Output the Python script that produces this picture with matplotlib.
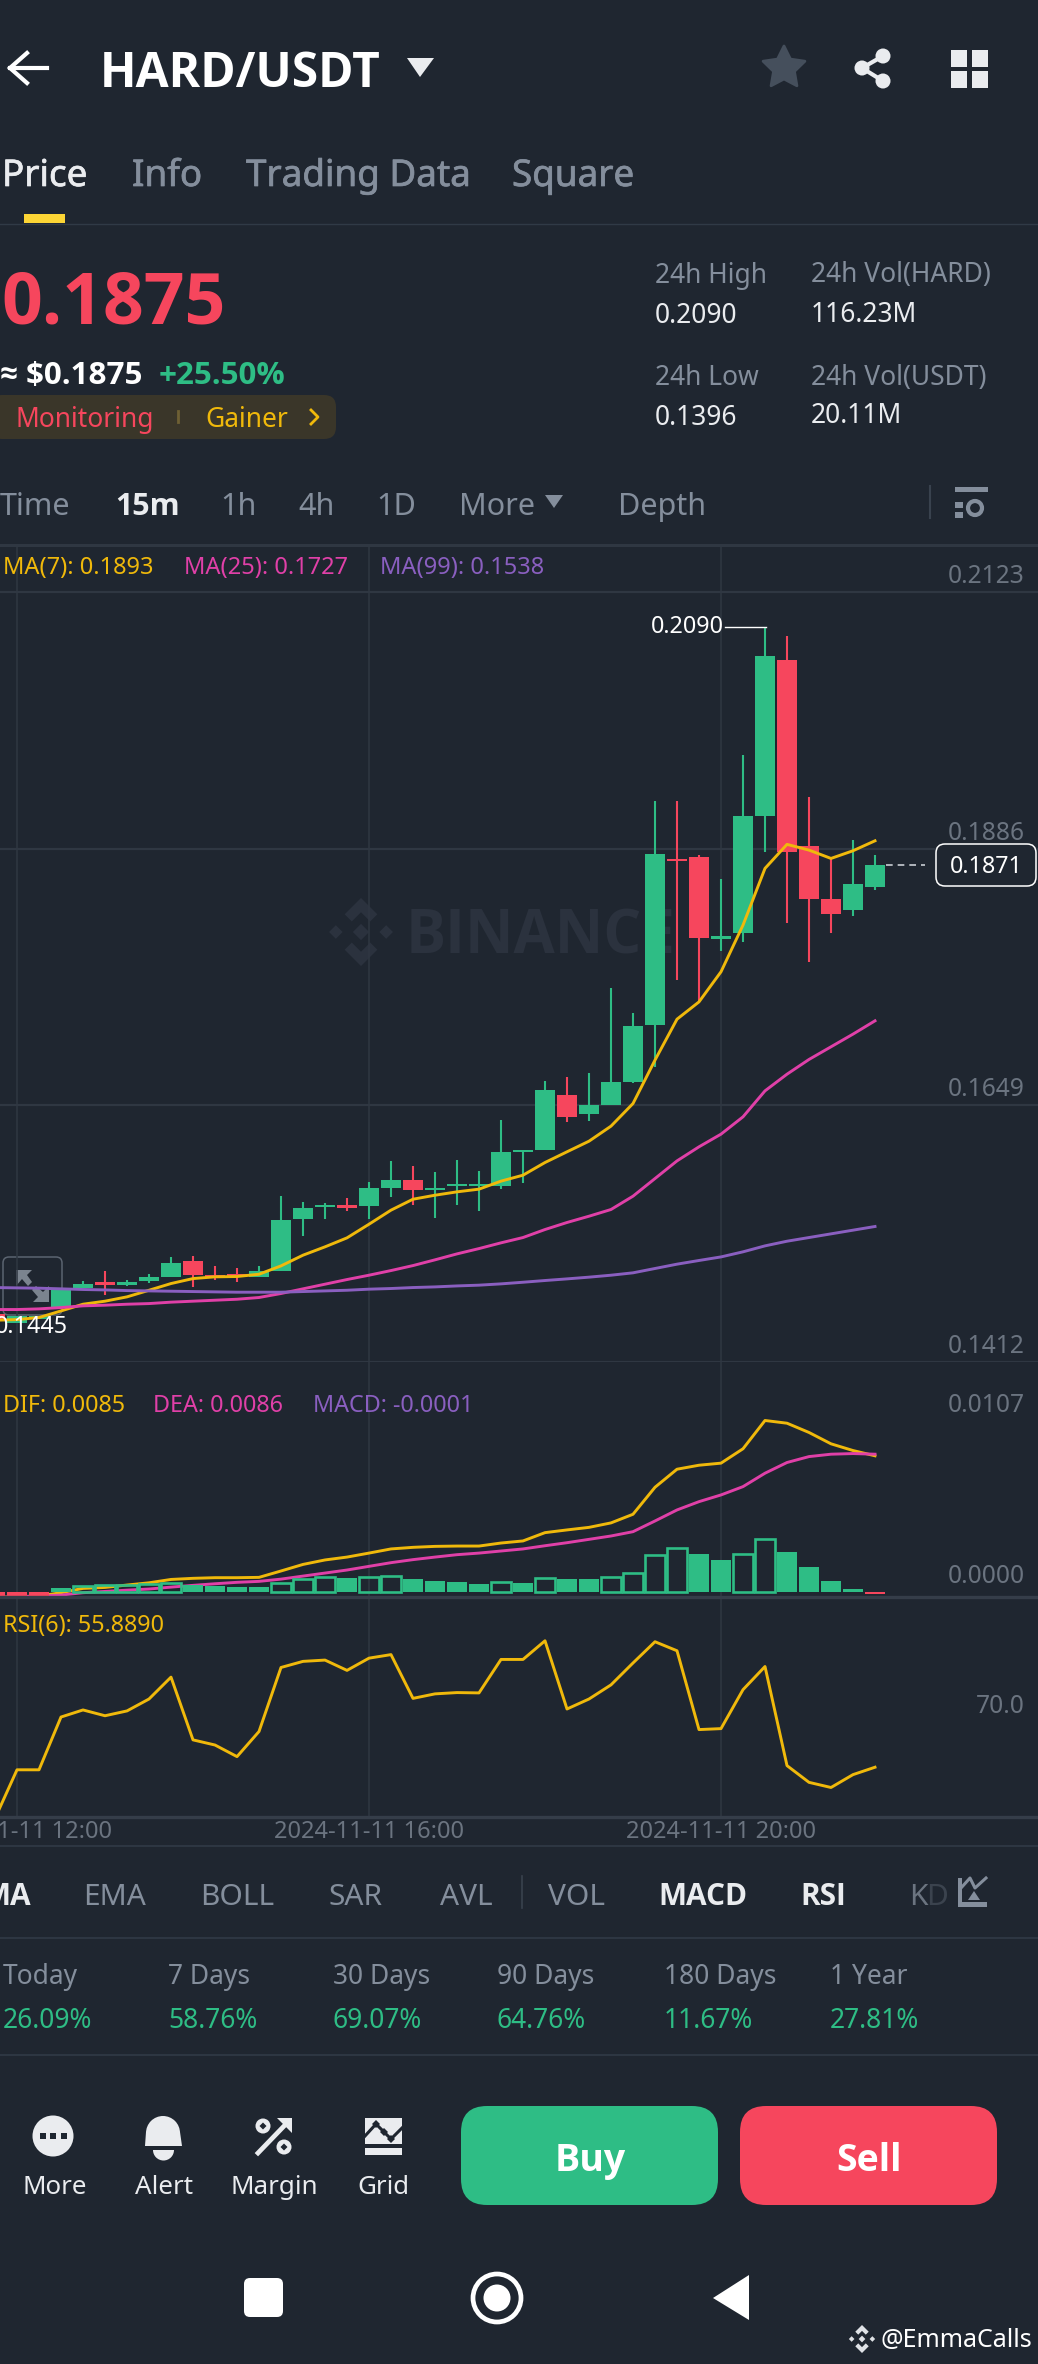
import numpy as np
import matplotlib
matplotlib.use('Agg')
import matplotlib.pyplot as plt
import matplotlib.font_manager as fm
import matplotlib.patheffects as pe
from matplotlib.patches import FancyBboxPatch, Polygon, Circle, Rectangle, Wedge
from matplotlib.transforms import ScaledTranslation

plt.rcParams['font.family'] = ['Noto Sans', 'DejaVu Sans']

W, H = 1038, 2364
BG = '#1f2630'
GREEN = '#2ebd85'
RED = '#f6465d'
YELLOW = '#f0b90b'
PINK = '#e040a8'
PURPLE = '#8a5fc0'
GREY = '#848e9c'
AXIS_GREY = '#6b7480'
WHITE = '#eaecef'
GRID = '#2f3742'

# candles, one every 15 min, index 0 = 12:00
candle_idx = np.arange(-1, 40)
c_open = [.14559, .14476, .14513, .14623, .14805, .14857, .14833, .14864, .14901, .15048, .14922,
          .14928, .14901, .14962, .15434, .15545, .15572, .15554, .15723, .15794, .15704,
          .15744, .15744, .15744, .16056, .16074, .16582, .16407, .16487, .16705, .17226,
          .18766, .18779, .18026, .18082, .19160, .20602, .18880, .18391, .18289, .18507]
c_close = [.14503, .14540, .14540, .14780, .14839, .14833, .14857, .14901, .15030, .14919, .14898,
           .14903, .14959, .15430, .15541, .15566, .15541, .15723, .15794, .15704, .15729,
           .15766, .15766, .16053, .16077, .16626, .16385, .16493, .16702, .17223, .18809,
           .18742, .18030, .18051, .19160, .20641, .18830, .18396, .18258, .18529, .18707]
c_high = [.14565, .14540, .14540, .14780, .14870, .14962, .14879, .14928, .15083, .15095, .15002,
          .14984, .15002, .15652, .15594, .15582, .15631, .15781, .15972, .15926, .15871,
          .15982, .15880, .16351, .16077, .16714, .16746, .16783, .17568, .17343, .19299,
          .19299, .18800, .18578, .19724, .20900, .20823, .19339, .18784, .18938, .18800]
c_low = [.14495, .14476, .14513, .14623, .14805, .14732, .14817, .14848, .14901, .14811, .14873,
         .14857, .14901, .14962, .15282, .15434, .15513, .15434, .15643, .15563, .15443,
         .15566, .15513, .15714, .15772, .16074, .16336, .16345, .16487, .16696, .16844,
         .17645, .17444, .17916, .17999, .18830, .18169, .17814, .18076, .18239, .18476]

ma7 = [.14503, .14509, .14528, .14589, .14651, .14679, .14719, .14780, .14842, .14888, .14904,
       .14907, .14928, .15005, .15104, .15181, .15264, .15390, .15520, .15621, .15658,
       .15689, .15714, .15788, .15843, .15960, .16059, .16157, .16296, .16505, .16906,
       .17284, .17444, .17722, .18153, .18677, .18899, .18846, .18769, .18840, .18932]
ma25 = [.14602, .14602, .14608, .14620, .14636, .14642, .14651, .14657, .14670, .14679, .14688,
        .14697, .14713, .14750, .14793, .14836, .14879, .14919, .14962, .15008, .15061,
        .15116, .15165, .15218, .15267, .15341, .15406, .15464, .15526, .15649, .15812,
        .15975, .16105, .16222, .16382, .16622, .16776, .16912, .17029, .17146, .17269]
ma99 = [.14805, .14802, .14799, .14793, .14787, .14783, .14777, .14774, .14771, .14768, .14765,
        .14762, .14762, .14762, .14768, .14774, .14780, .14790, .14796, .14805, .14811,
        .14820, .14827, .14839, .14854, .14870, .14885, .14901, .14919, .14941, .14981,
        .15021, .15055, .15088, .15135, .15190, .15233, .15267, .15301, .15335, .15369]

dif = [-.00036, -.00031, -.00027, -.00006, .00021, .00027, .00042, .00056, .00077, .00084, .00088,
       .00088, .00090, .00130, .00171, .00199, .00217, .00242, .00268, .00278, .00284,
       .00286, .00286, .00305, .00318, .00370, .00387, .00403, .00431, .00485, .00654,
       .00767, .00792, .00805, .00895, .01072, .01055, .00997, .00926, .00884, .00851]
dea = [-.00036, -.00031, -.00027, -.00021, -.00006, .00002, .00010, .00017, .00029, .00040, .00050,
       .00059, .00065, .00079, .00098, .00117, .00136, .00159, .00182, .00201, .00217,
       .00232, .00242, .00255, .00268, .00288, .00307, .00328, .00349, .00376, .00443,
       .00512, .00564, .00606, .00658, .00742, .00809, .00846, .00861, .00865, .00861]
macd_hist = [-.00030, -.00030, -.00030, .00025, .00038, .00042, .00044, .00046, .00054, .00044, .00038,
             .00031, .00029, .00052, .00077, .00092, .00084, .00094, .00096, .00079, .00069,
             .00059, .00046, .00059, .00052, .00088, .00082, .00079, .00090, .00119, .00228,
             .00276, .00238, .00201, .00236, .00332, .00249, .00153, .00067, .00019, -.00013]
hist_hollow = [3, 4, 5, 6, 7, 12, 13, 14, 16, 17, 22, 24, 27, 28, 29, 30, 33, 34]

rsi = [40.0, 55.1, 55.1, 71.5, 73.7, 71.9, 73.4, 77.1, 83.9, 64.4, 62.8,
       59.2, 67.0, 86.9, 88.8, 89.2, 86.0, 89.8, 90.9, 77.3, 78.7,
       79.1, 79.0, 89.4, 89.4, 95.2, 74.0, 77.1, 81.5, 88.3, 94.9,
       92.1, 67.6, 67.9, 80.0, 87.2, 56.4, 51.2, 49.6, 53.6, 55.9]

price_ticks = [.2123, .1886, .1649, .1412]
price_tick_labels = ['0.2123', '0.1886', '0.1649', '0.1412']
macd_ticks = [.0107, 0]
macd_tick_labels = ['0.0107', '0.0000']
rsi_ticks = [70]
rsi_tick_labels = ['70.0']
time_ticks = [0, 16, 32]
time_labels = ['2024-11-11 12:00', '2024-11-11 16:00', '2024-11-11 20:00']

tabs = [('Price', 2, WHITE), ('Info', 132, GREY), ('Trading Data', 246, GREY), ('Square', 512, GREY)]
intervals = [('Time', 0, GREY), ('15m', 115, WHITE), ('1h', 220, GREY), ('4h', 298, GREY),
             ('1D', 376, GREY), ('More', 459, GREY), ('Depth', 618, GREY)]
indicators = [('EMA', 83, GREY), ('BOLL', 200, GREY), ('SAR', 329, GREY), ('AVL', 440, GREY),
              ('VOL', 548, GREY), ('MACD', 658, WHITE), ('RSI', 800, WHITE)]
perf_names = ['Today', '7 Days', '30 Days', '90 Days', '180 Days', '1 Year']
perf_values = ['26.09%', '58.76%', '69.07%', '64.76%', '11.67%', '27.81%']
perf_x = [3, 168, 333, 497, 664, 830]


# some installs only carry a regular face, take the first family with a real bold
def find_bold_family():
    for fam in ['Noto Sans', 'Open Sans', 'Roboto', 'Lato', 'Inter', 'Liberation Sans']:
        for f in fm.fontManager.ttflist:
            w = f.weight if isinstance(f.weight, int) else fm.weight_dict.get(f.weight, 400)
            if f.name == fam and w >= 600:
                return fam
    return 'DejaVu Sans'


BOLD_FAMILY = find_bold_family()

fig = plt.figure(figsize=(W / 100, H / 100), dpi=100, facecolor=BG)


def pixel_layer(zorder):
    ax = fig.add_axes([0, 0, 1, 1], zorder=zorder)
    ax.set_xlim(0, W)
    ax.set_ylim(H, 0)
    ax.axis('off')
    return ax


def panel(top, bottom):
    ax = fig.add_axes([0, 1 - bottom / H, 1, (bottom - top) / H], zorder=2)
    ax.patch.set_alpha(0)
    ax.set_xlim(-17 / 22, (W - 17) / 22)
    for s in ax.spines.values():
        s.set_visible(False)
    ax.set_xticks(time_ticks)
    ax.set_xticklabels([])
    ax.grid(axis='x', color=GRID, lw=1.1)
    ax.tick_params(length=0)
    ax.set_axisbelow(True)
    return ax


def right_labels(ax, ticks, labels):
    ax.set_yticks(ticks)
    ax.set_yticklabels(labels, color=AXIS_GREY, fontsize=17.7, ha='right', va='bottom')
    ax.tick_params(axis='y', labelleft=False, labelright=True, pad=-9.5)
    up = ScaledTranslation(0, 3 / 100, fig.dpi_scale_trans)
    for lab in ax.get_yticklabels():
        lab.set_transform(lab.get_transform() + up)


bg = pixel_layer(1)
ui = pixel_layer(5)


def txt(x, y, s, size, color=WHITE, weight='normal', ha='left', layer=None, stroke=0):
    fam = [BOLD_FAMILY, 'DejaVu Sans'] if weight == 'bold' else ['Noto Sans', 'DejaVu Sans']
    t = (layer or ui).text(x, y, s, fontsize=size, color=color, fontweight=weight, ha=ha, va='baseline', family=fam)
    if stroke:
        t.set_path_effects([pe.withStroke(linewidth=stroke, foreground=color)])
    return t


def diamond(ax, cx, cy, d, color):
    ax.add_patch(Polygon([(cx - d, cy), (cx, cy - d), (cx + d, cy), (cx, cy + d)], fc=color, ec='none'))


def binance_logo(ax, cx, cy, r, color):
    chevron = np.array([(0, -1), (.48, -.52), (.27, -.31), (0, -.58), (-.27, -.31), (-.48, -.52)])
    for sy in (1, -1):
        ax.add_patch(Polygon(np.c_[cx + r * chevron[:, 0], cy + sy * r * chevron[:, 1]], fc=color, ec='none'))
    for dx, d in ((0, .24), (-.74, .2), (.74, .2)):
        diamond(ax, cx + r * dx, cy, r * d, color)


def rounded(ax, x0, y0, x1, y1, r, **kw):
    ax.add_patch(FancyBboxPatch((x0, y0), x1 - x0, y1 - y0, boxstyle=f'round,pad=0,rounding_size={r}', **kw))


# --- chart panels ---
ax_price = panel(547, 1361.7)
ax_price.set_ylim(.1412, .21646)
ax_price.grid(axis='y', color=GRID, lw=1.6)
right_labels(ax_price, price_ticks, price_tick_labels)

for i, o, c, h, l in zip(candle_idx, c_open, c_close, c_high, c_low):
    col = GREEN if c >= o else RED
    ax_price.vlines(i, l, h, color=col, lw=1.5, zorder=3)
    ax_price.bar(i, abs(c - o), bottom=min(o, c), width=.87, color=col, zorder=3)

ax_price.plot(candle_idx, ma7, color=YELLOW, lw=2.1, zorder=4)
ax_price.plot(candle_idx, ma25, color=PINK, lw=2.1, zorder=4)
ax_price.plot(candle_idx, ma99, color=PURPLE, lw=2.1, zorder=4)

ax_macd = panel(1361.7, 1596.7)
ax_macd.set_ylim(-.00031, .0144)
right_labels(ax_macd, macd_ticks, macd_tick_labels)
for i, v in zip(candle_idx, macd_hist):
    col = GREEN if v >= 0 else RED
    if i in hist_hollow:
        ax_macd.bar(i, v, width=.87, facecolor='none', edgecolor=col, lw=1.9, zorder=3)
    else:
        ax_macd.bar(i, v, width=.92, color=col, zorder=3)
ax_macd.plot(candle_idx, dif, color=YELLOW, lw=2.1, zorder=2.5)
ax_macd.plot(candle_idx, dea, color=PINK, lw=2.1, zorder=2.6)

ax_rsi = panel(1596.7, 1817)
ax_rsi.set_ylim(40.43, 108.9)
right_labels(ax_rsi, rsi_ticks, rsi_tick_labels)
ax_rsi.plot(candle_idx, rsi, color=YELLOW, lw=2.1, zorder=3)
ax_rsi.set_xticklabels(time_labels, color=AXIS_GREY, fontsize=17)
ax_rsi.tick_params(axis='x', pad=2)

# chart overlays
binance_logo(bg, 361, 932, 34, '#2b323e')
txt(406, 953, 'BINANCE', 43, '#2b323e', 'bold', layer=bg)
rounded(bg, 3, 1257, 62, 1315, 6, fc='none', ec='#5b6470', lw=1.1)
bg.add_patch(Polygon([(16, 1270), (32, 1270), (27, 1275), (32, 1282), (28, 1286), (22, 1279), (16, 1286)], fc='#7b848f', ec='none'))
bg.add_patch(Polygon([(49, 1302), (33, 1302), (38, 1297), (32, 1290), (36, 1286), (43, 1292), (49, 1286)], fc='#7b848f', ec='none'))

txt(3, 574, 'MA(7): 0.1893', 17, YELLOW)
txt(184, 574, 'MA(25): 0.1727', 17, PINK)
txt(380, 574, 'MA(99): 0.1538', 17, PURPLE)
txt(3, 1412, 'DIF: 0.0085', 16.8, YELLOW)
txt(153, 1412, 'DEA: 0.0086', 16.8, PINK)
txt(313, 1412, 'MACD: -0.0001', 16.8, PURPLE)
txt(3, 1632, 'RSI(6): 55.8890', 16.8, YELLOW)

txt(724, 633, '0.2090', 16.8, 'white', ha='right')
ui.plot([725, 766], [627.3, 627.3], color='white', lw=1)
txt(68, 1333, '0.1445', 16.8, 'white', ha='right')
ui.plot([886, 925], [865, 865], color='#c9ced4', lw=1.2, dashes=(4, 3))
rounded(ui, 936, 844, 1036, 886, 9, fc=BG, ec='white', lw=1.1)
txt(986, 873, '0.1871', 16.8, 'white', ha='center')

# --- header ---
ui.plot([10, 47], [68, 68], color='white', lw=3)
ui.plot([27, 10, 27], [53, 68, 83], color='white', lw=3, solid_joinstyle='miter')
txt(100, 87, 'HARD/USDT', 34.5, 'white', 'bold')
ui.add_patch(Polygon([(407, 58), (434, 58), (420, 77)], fc=WHITE, ec='none'))

angles = np.deg2rad(np.arange(10) * 36 - 90)
radii = np.where(np.arange(10) % 2 == 0, 22, 11)
ui.add_patch(Polygon(np.c_[784 + radii * np.cos(angles), 68 + radii * np.sin(angles)], fc='#454f5c', ec='#454f5c', lw=2, joinstyle='round'))

ui.plot([883, 862, 883], [56, 68, 81], color=WHITE, lw=3)
for cx, cy in [(883, 56), (883, 81), (862, 68)]:
    ui.add_patch(Circle((cx, cy), 7.5, fc=WHITE, ec='none'))
for x0, y0 in [(951, 50), (972, 50), (951, 71), (972, 71)]:
    ui.add_patch(Rectangle((x0, y0), 16, 16.5, fc=WHITE, ec='none'))

for name, x, col in tabs:
    txt(x, 186, name, 26.5, col, stroke=0.5)
ui.add_patch(Rectangle((24, 214), 41, 9, fc='#fcd535', ec='none'))
ui.plot([0, W], [223.5, 223.5], color='#303a46', lw=1)

txt(1, 324, '0.1875', 51.5, RED, 'bold')
txt(0, 384, '≈ $0.1875', 22.6, 'white', 'bold')
txt(159, 384, '+25.50%', 22.6, GREEN, 'bold')
rounded(ui, -10, 395, 336, 439, 12, fc='#3a3629', ec='none')
txt(16, 427, 'Monitoring', 19, RED)
ui.plot([178, 178], [411, 422], color='#6e6034', lw=2)
txt(205, 427, 'Gainer', 19, YELLOW)
ui.plot([311, 318, 311], [410, 417, 424], color=YELLOW, lw=2)

txt(655, 283, '24h High', 19, GREY)
txt(655, 323, '0.2090', 19, WHITE)
txt(811, 282, '24h Vol(HARD)', 19, GREY)
txt(811, 322, '116.23M', 19, WHITE)
txt(655, 385, '24h Low', 19, GREY)
txt(655, 425, '0.1396', 19, WHITE)
txt(811, 385, '24h Vol(USDT)', 19, GREY)
txt(811, 423, '20.11M', 19, WHITE)

for name, x, col in intervals:
    txt(x, 515, name, 22, col, 'bold' if name == '15m' else 'normal')
ui.add_patch(Polygon([(545, 495), (563, 495), (554, 508)], fc=GREY, ec='none'))
ui.plot([930, 930], [486, 518], color='#39424e', lw=1.5)
ui.add_patch(Rectangle((955, 487), 33, 5, fc=GREY, ec='none'))
for y0 in (502, 512):
    ui.add_patch(Rectangle((955, y0), 8, 5.5, fc=GREY, ec='none'))
ui.add_patch(Circle((975, 508), 7, fc='none', ec=GREY, lw=3))
ui.plot([0, W], [545, 545], color=GRID, lw=2.2)

# --- separators under the panels ---
ui.plot([0, W], [1596.7, 1596.7], color='#353d49', lw=2.4)
ui.plot([0, W], [1817, 1817], color='#353d49', lw=2.4)
ui.plot([0, W], [1846, 1846], color='#303a46', lw=1.2)
ui.plot([0, W], [1938, 1938], color='#303a46', lw=1.2)
ui.plot([0, W], [2055, 2055], color='#303a46', lw=1.2)

# --- indicators row ---
txt(31, 1905, 'MA', 21.5, WHITE, 'bold', ha='right')
for name, x, col in indicators:
    txt(x, 1905, name, 21.5, col, 'bold' if col == WHITE else 'normal')
ui.plot([522, 522], [1876, 1908], color='#39424e', lw=1.2)
txt(909, 1905, 'K', 21.5, AXIS_GREY)
txt(926, 1905, 'D', 21.5, '#3b434e')
ui.add_patch(Rectangle((958, 1878), 4, 29, fc=GREY, ec='none'))
ui.add_patch(Rectangle((958, 1902), 29, 5, fc=GREY, ec='none'))
ui.plot([961, 970, 975, 986], [1888, 1878, 1888, 1878], color=GREY, lw=2.2)
ui.add_patch(Polygon([(968, 1900), (974, 1891), (980, 1900)], fc=GREY, ec='none'))

# --- performance row ---
for name, val, x in zip(perf_names, perf_values, perf_x):
    txt(x, 1984, name, 19, GREY)
    txt(x, 2028, val, 19, GREEN)

# --- bottom bar ---
ui.add_patch(Circle((53, 2136), 20.5, fc=WHITE, ec='none'))
for x0 in (40, 50, 61):
    ui.add_patch(Rectangle((x0, 2133), 6, 6, fc=BG, ec='none'))

ui.add_patch(Wedge((163, 2133), 17, 180, 360, fc=WHITE, ec='none'))
ui.add_patch(Polygon([(146, 2132), (180, 2132), (182, 2146), (145, 2146)], fc=WHITE, ec='none'))
ui.add_patch(Wedge((163.5, 2150), 10.5, 0, 180, fc=WHITE, ec='none'))

ui.plot([258, 286], [2153, 2124], color=WHITE, lw=3.4)
ui.add_patch(Polygon([(277, 2118), (292, 2118), (292, 2133)], fc=WHITE, ec='none'))
for cx, cy in [(263, 2126), (284, 2147)]:
    ui.add_patch(Circle((cx, cy), 7.5, fc=WHITE, ec='none'))
    diamond(ui, cx, cy, 3.5, BG)

ui.add_patch(Rectangle((365, 2118), 37, 26, fc=WHITE, ec='none'))
ui.add_patch(Rectangle((365, 2148), 37, 6.5, fc=WHITE, ec='none'))
ui.plot([365, 376, 391, 402], [2136, 2124, 2139, 2128], color=BG, lw=2.2)
for cx, cy in [(376, 2124), (384, 2132), (391, 2139)]:
    diamond(ui, cx, cy, 4, BG)

for name, x in [('More', 55), ('Alert', 164), ('Margin', 274), ('Grid', 383)]:
    txt(x, 2194, name, 18.7, WHITE, ha='center')

rounded(ui, 461, 2106, 718, 2205, 26, fc=GREEN, ec='none')
rounded(ui, 740, 2106, 997, 2205, 26, fc=RED, ec='none')
txt(590, 2171, 'Buy', 27, 'white', 'bold', ha='center')
txt(869, 2171, 'Sell', 27, 'white', 'bold', ha='center')

# nav bar
rounded(ui, 244, 2278, 283, 2317, 6, fc='white', ec='none')
ui.add_patch(Circle((497, 2298), 24, fc='none', ec='white', lw=3.4))
ui.add_patch(Circle((497, 2298), 13.5, fc='white', ec='none'))
ui.add_patch(Polygon([(713, 2298), (749, 2275), (749, 2320)], fc='white', ec='none', joinstyle='round'))

binance_logo(ui, 862, 2339, 14, '#dfe2e6')
txt(880, 2347, '@EmmaCalls', 18, 'white')

fig.savefig('out.png', dpi=100, facecolor=BG)
